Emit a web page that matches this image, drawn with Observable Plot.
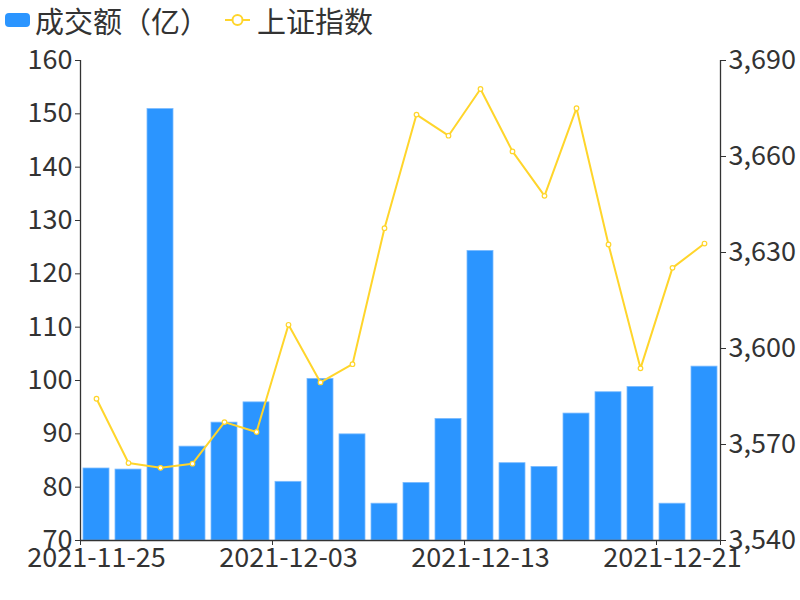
<!DOCTYPE html>
<html>
<head>
<meta charset="utf-8">
<script src="https://cdn.jsdelivr.net/npm/d3@7"></script>
<script src="https://cdn.jsdelivr.net/npm/@observablehq/plot@0.6"></script>
<style>
  html, body { margin: 0; padding: 0; background: #fff; }
  body { width: 800px; height: 600px; overflow: hidden; font-family: "Noto Sans CJK SC", sans-serif; }
  #legend { height: 40px; position: relative; color: #333; font-size: 29px; line-height: 1.2; }
  .item { position: absolute; top: 1px; display: flex; align-items: center; height: 38px; white-space: nowrap; }
</style>
</head>
<body>
<div id="legend">
  <div class="item" style="left:5px;">
    <svg width="25" height="14" style="margin-right:5px"><rect x="0" y="0" width="25" height="14" rx="4" fill="#2b95ff"/></svg>
    <span>成交额（亿）</span>
  </div>
  <div class="item" style="left:225px;">
    <svg width="25" height="14" style="margin-right:7px"><line x1="0" y1="7" x2="25" y2="7" stroke="#ffd52b" stroke-width="2"/><circle cx="12.5" cy="7" r="5" fill="#fff" stroke="#ffd52b" stroke-width="2"/></svg>
    <span>上证指数</span>
  </div>
</div>
<div id="chart"></div>
<script>
const dates = ["2021-11-25","2021-11-26","2021-11-29","2021-11-30","2021-12-01","2021-12-02","2021-12-03","2021-12-06","2021-12-07","2021-12-08","2021-12-09","2021-12-10","2021-12-13","2021-12-14","2021-12-15","2021-12-16","2021-12-17","2021-12-20","2021-12-21","2021-12-22"];
const amount = [83.5,83.3,150.9,87.6,92.1,95.9,81.0,100.3,89.9,76.9,80.8,92.8,124.3,84.5,83.8,93.8,97.8,98.8,76.9,102.6];
const indexValue = [3584.3,3564.2,3562.7,3564.0,3577.0,3573.9,3607.4,3589.4,3595.1,3637.6,3673.1,3666.5,3681.1,3661.6,3647.7,3675.1,3632.5,3593.8,3625.2,3632.8];
const leftTicks = [70,80,90,100,110,120,130,140,150,160];
const rightTicks = [3540,3570,3600,3630,3660,3690];
const xTickDates = ["2021-11-25","2021-12-03","2021-12-13","2021-12-21"];

const leftDomain = [70,160];
const rightDomain = [3540,3690];
const toLeft = d3.scaleLinear().domain(rightDomain).range(leftDomain);

const data = dates.map((d,i) => ({date: d, amount: amount[i], idx: indexValue[i]}));

const width = 800, marginLeft = 80, marginRight = 80;
const halfStep = (width - marginLeft - marginRight) / dates.length / 2;

const chart = Plot.plot({
  width: 800,
  height: 560,
  marginTop: 20,
  marginBottom: 60,
  marginLeft,
  marginRight,
  style: {fontFamily: "'Noto Sans CJK SC', sans-serif", fontSize: "27px", color: "#333", background: "transparent", overflow: "visible"},
  x: {type: "band", domain: dates, paddingInner: 0.2, paddingOuter: 0.1},
  y: {domain: leftDomain},
  marks: [
    Plot.barY(data, {x: "date", y1: 70, y2: "amount", fill: "#2b95ff", stroke: "#7cbcff", strokeWidth: 0.8}),
    Plot.line(data, {x: "date", y: d => toLeft(d.idx), stroke: "#ffd52b", strokeWidth: 2}),
    Plot.dot(data, {x: "date", y: d => toLeft(d.idx), r: 2.3, fill: "#fff", stroke: "#ffd52b", strokeWidth: 1.2}),
    Plot.ruleY([70], {stroke: "#333", strokeWidth: 1.3}),
    Plot.ruleX([dates[0]], {dx: -halfStep, stroke: "#333", strokeWidth: 1.3}),
    Plot.ruleX([dates[dates.length-1]], {dx: halfStep, stroke: "#333", strokeWidth: 1.3}),
    Plot.axisY({anchor: "left", label: null, ticks: leftTicks, tickSize: 5, tickPadding: 3, stroke: "#333", fill: "#333"}),
    Plot.axisY({anchor: "right", label: null, ticks: rightTicks.map(v => toLeft(v)), tickSize: 5, tickPadding: 3,
      tickFormat: d => d3.format(",")(Math.round(toLeft.invert(d))), stroke: "#333", fill: "#333"}),
    Plot.axisX({label: null, ticks: xTickDates, tickSize: 5, tickFormat: () => "", dx: -halfStep, stroke: "#333"}),
    Plot.axisX({label: null, ticks: [dates[dates.length-1]], tickSize: 5, tickFormat: () => "", dx: halfStep, stroke: "#333"}),
    Plot.axisX({label: null, ticks: xTickDates, tickSize: 0, tickPadding: 7, fill: "#333"})
  ]
});
document.getElementById("chart").appendChild(chart);
</script>
</body>
</html>
